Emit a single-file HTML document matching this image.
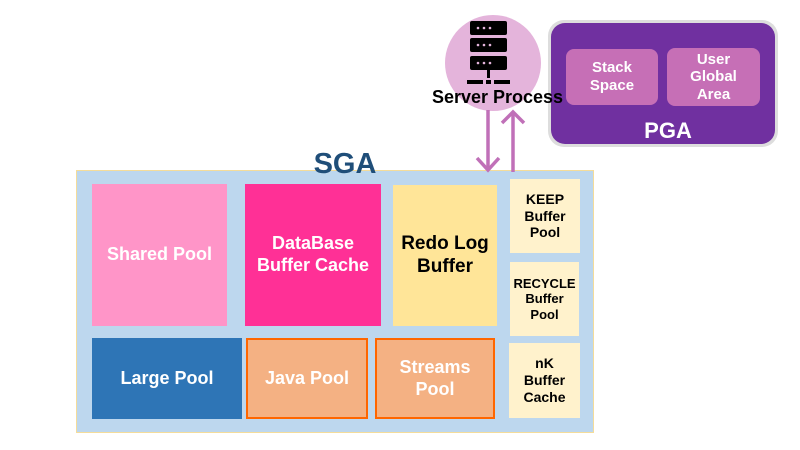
<!DOCTYPE html>
<html><head><style>
body{margin:0;width:800px;height:450px;background:#fff;position:relative;overflow:hidden;font-family:"Liberation Sans","Noto Sans CJK KR",sans-serif;font-weight:bold}
.b{position:absolute;display:flex;align-items:center;justify-content:center;text-align:center;box-sizing:border-box;line-height:1.2}
</style></head><body>
<div class="b" style="left:76px;top:170px;width:518px;height:263px;background:#bdd7ee;border:1px solid #f4dc9a"></div>
<div class="b" style="left:300px;top:144px;width:90px;height:40px;font-size:29px;color:#1f4e79">SGA</div>
<div class="b" style="left:92px;top:184px;width:135px;height:142px;background:#ff95c8;color:#fff;font-size:18px">Shared Pool</div>
<div class="b" style="left:245px;top:184px;width:136px;height:142px;background:#ff3096;color:#fff;font-size:18px">DataBase<br>Buffer Cache</div>
<div class="b" style="left:393px;top:185px;width:104px;height:141px;background:#ffe598;color:#000;font-size:19px">Redo Log<br>Buffer</div>
<div class="b" style="left:510px;top:179px;width:70px;height:74px;background:#fff2cc;color:#000;font-size:14px">KEEP<br>Buffer<br>Pool</div>
<div class="b" style="left:510px;top:262px;width:69px;height:74px;background:#fff2cc;color:#000;font-size:13px">RECYCLE<br>Buffer<br>Pool</div>
<div class="b" style="left:509px;top:343px;width:71px;height:75px;background:#fff2cc;color:#000;font-size:14px">nK<br>Buffer<br>Cache</div>
<div class="b" style="left:92px;top:338px;width:150px;height:81px;background:#2e75b6;color:#fff;font-size:18px">Large Pool</div>
<div class="b" style="left:246px;top:338px;width:122px;height:81px;background:#f4b183;border:2px solid #ff6600;color:#fff;font-size:18px">Java Pool</div>
<div class="b" style="left:375px;top:338px;width:120px;height:81px;background:#f4b183;border:2px solid #ff6600;color:#fff;font-size:18px">Streams<br>Pool</div>
<div style="position:absolute;left:548px;top:20px;width:230px;height:127px;border-radius:16px;background:#ddd"></div>
<div style="position:absolute;left:551px;top:23px;width:224px;height:121px;border-radius:14px;background:#7030a0"></div>
<div class="b" style="left:566px;top:49px;width:92px;height:56px;background:#c66fb6;border-radius:8px;color:#fff;font-size:15px">Stack<br>Space</div>
<div class="b" style="left:667px;top:48px;width:93px;height:58px;background:#c66fb6;border-radius:8px;color:#fff;font-size:15px;line-height:1.15">User<br>Global<br>Area</div>
<div class="b" style="left:620px;top:117px;width:96px;height:28px;font-size:22px;color:#fff">PGA</div>
<div style="position:absolute;left:445px;top:15px;width:96px;height:96px;border-radius:50%;background:#e4b4db"></div>
<svg style="position:absolute;left:0;top:0" width="800" height="450">
<g fill="#000">
<rect x="470" y="21" width="37" height="14" rx="2"/><rect x="470" y="38" width="37" height="14" rx="2"/><rect x="470" y="56" width="37" height="14" rx="2"/>
<rect x="487" y="70" width="3" height="8"/><rect x="467" y="80" width="16" height="4"/><rect x="486" y="80" width="5" height="4"/><rect x="494" y="80" width="16" height="4"/>
</g>
<g fill="#e4b4db"><circle cx="478" cy="28" r="1.3"/><circle cx="484" cy="28" r="1.3"/><circle cx="490" cy="28" r="1.3"/>
<circle cx="478" cy="45" r="1.3"/><circle cx="484" cy="45" r="1.3"/><circle cx="490" cy="45" r="1.3"/>
<circle cx="478" cy="63" r="1.3"/><circle cx="484" cy="63" r="1.3"/><circle cx="490" cy="63" r="1.3"/></g>
<g stroke="#c070b8" stroke-width="3.5" fill="none">
<line x1="488" y1="110" x2="488" y2="170"/><polyline points="477,158 488,170 499,158"/>
<line x1="513" y1="112" x2="513" y2="172"/><polyline points="502,123 513,112 524,123"/>
</g>
</svg>
<div class="b" style="left:420px;top:86px;width:155px;height:24px;font-size:18px;color:#000;white-space:nowrap;z-index:5">Server Process</div>
</body></html>
